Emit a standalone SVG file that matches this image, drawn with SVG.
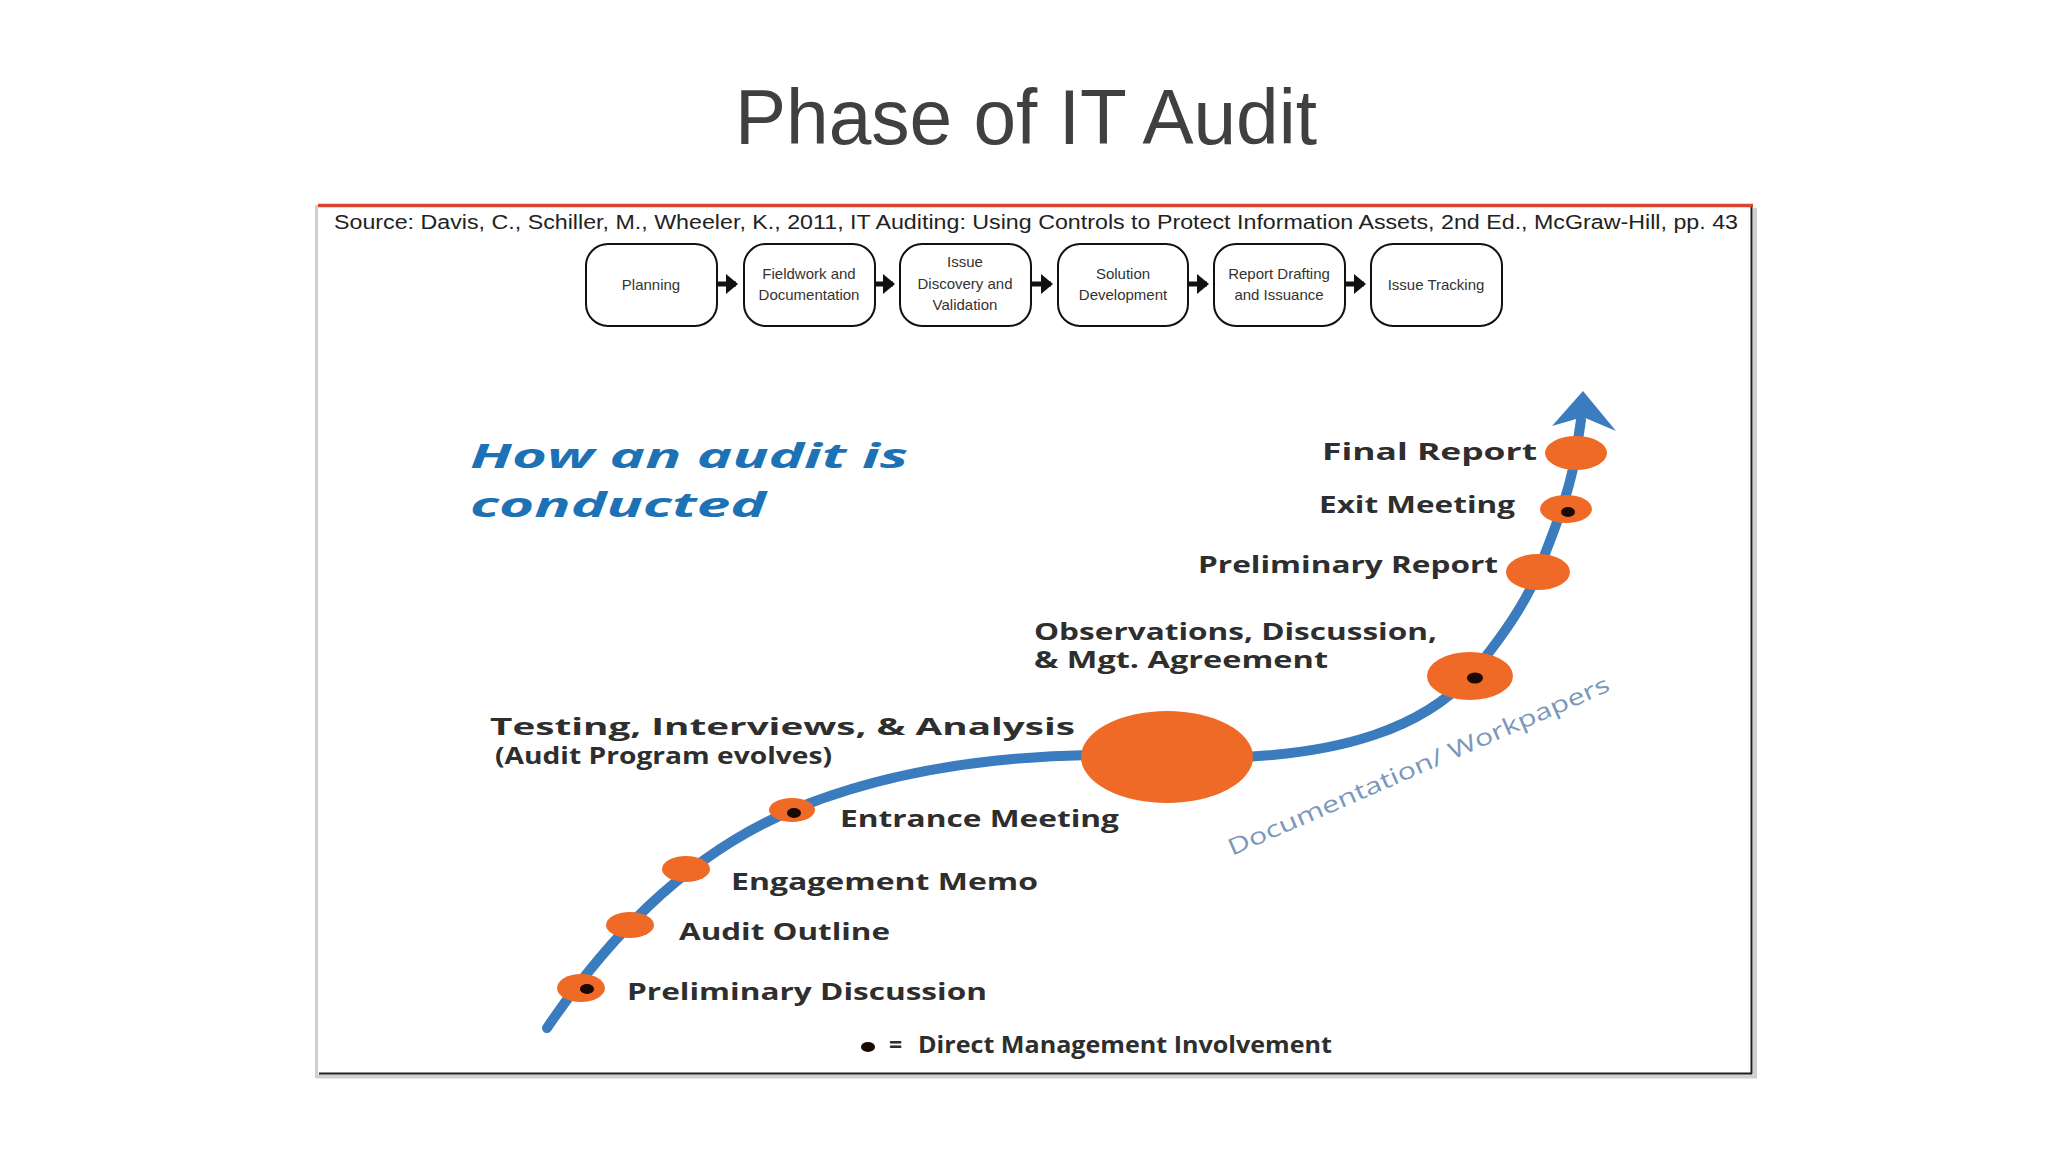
<svg xmlns="http://www.w3.org/2000/svg" width="2048" height="1152" viewBox="0 0 2048 1152">
<defs>
<style>
.title{font-family:"Liberation Sans",Arial,sans-serif;font-size:78px;fill:#404040}
.src{font-family:"Liberation Sans",Arial,sans-serif;font-size:20px;fill:#222}
.box{fill:#fff;stroke:#111;stroke-width:2}
.bt{font-family:"Liberation Sans",Arial,sans-serif;font-size:15px;fill:#333;text-anchor:middle}
.lbl{font-family:"Open Sans","DejaVu Sans",sans-serif;font-weight:700;font-size:23px;fill:#2e2e2e}
.how{font-family:"Open Sans","DejaVu Sans",sans-serif;font-weight:700;font-style:italic;font-size:34px;fill:#1d72b5}
.dot{fill:#ef6a26}
.blk{fill:#1a0a05}
.curve{fill:none;stroke:#3a7cbd;stroke-width:10;stroke-linecap:round}
.conn{stroke:#111;stroke-width:5}
</style>
<marker id="ah" markerWidth="4" markerHeight="4" refX="2" refY="2" orient="auto" markerUnits="strokeWidth">
<path d="M0,0 L2.4,2 L0,4 Z" fill="#111"/>
</marker>
</defs>
<rect width="2048" height="1152" fill="#fff"/>
<text class="title" x="1026" y="144" text-anchor="middle" textLength="582" lengthAdjust="spacingAndGlyphs">Phase of IT Audit</text>

<g id="frame">
<rect x="318" y="205" width="1433" height="868" fill="#fff"/>
<line x1="316.5" y1="205" x2="316.5" y2="1078" stroke="#cfcfcf" stroke-width="3"/>
<line x1="1755" y1="208" x2="1755" y2="1078" stroke="#d0d0d0" stroke-width="4"/>
<line x1="316" y1="1076.5" x2="1757" y2="1076.5" stroke="#d0d0d0" stroke-width="4"/>
<line x1="1751.5" y1="207" x2="1751.5" y2="1074" stroke="#1e1e1e" stroke-width="2"/>
<line x1="319" y1="1073.5" x2="1752" y2="1073.5" stroke="#1e1e1e" stroke-width="2"/>
<line x1="318" y1="205.5" x2="1753" y2="205.5" stroke="#d9442e" stroke-width="3.5"/>
<text class="src" x="334" y="229" textLength="1404" lengthAdjust="spacingAndGlyphs">Source: Davis, C., Schiller, M., Wheeler, K., 2011, IT Auditing: Using Controls to Protect Information Assets, 2nd Ed., McGraw-Hill, pp. 43</text>
</g>

<g id="connectors">
<line class="conn" x1="717" y1="284" x2="736" y2="284" marker-end="url(#ah)"/>
<line class="conn" x1="875" y1="284" x2="893" y2="284" marker-end="url(#ah)"/>
<line class="conn" x1="1031" y1="284" x2="1051" y2="284" marker-end="url(#ah)"/>
<line class="conn" x1="1188" y1="284" x2="1207" y2="284" marker-end="url(#ah)"/>
<line class="conn" x1="1345" y1="284" x2="1364" y2="284" marker-end="url(#ah)"/>
</g>

<g id="box-planning"><rect class="box" x="586" y="244" width="131" height="82" rx="22"/><text class="bt" x="651" y="290">Planning</text></g>
<g id="box-fieldwork"><rect class="box" x="744" y="244" width="131" height="82" rx="22"/><text class="bt" x="809" y="279">Fieldwork and</text><text class="bt" x="809" y="300">Documentation</text></g>
<g id="box-issue"><rect class="box" x="900" y="244" width="131" height="82" rx="22"/><text class="bt" x="965" y="267">Issue</text><text class="bt" x="965" y="289">Discovery and</text><text class="bt" x="965" y="310">Validation</text></g>
<g id="box-solution"><rect class="box" x="1058" y="244" width="130" height="82" rx="22"/><text class="bt" x="1123" y="279">Solution</text><text class="bt" x="1123" y="300">Development</text></g>
<g id="box-report"><rect class="box" x="1214" y="244" width="131" height="82" rx="22"/><text class="bt" x="1279" y="279">Report Drafting</text><text class="bt" x="1279" y="300">and Issuance</text></g>
<g id="box-tracking"><rect class="box" x="1371" y="244" width="131" height="82" rx="22"/><text class="bt" x="1436" y="290">Issue Tracking</text></g>

<g id="heading">
<text class="how" x="470" y="468" textLength="438" lengthAdjust="spacingAndGlyphs">How an audit is</text>
<text class="how" x="470" y="517" textLength="296" lengthAdjust="spacingAndGlyphs">conducted</text>
</g>

<g id="path">
<path class="curve" d="M547,1028 C600,950 680,855 800,807 C880,775 980,757 1090,755"/>
<path class="curve" d="M1245,757 C1340,752 1420,730 1470,676 C1500,640 1525,605 1538,572 C1552,535 1572,490 1578,440 L1581,420"/>
<path d="M1583,391 L1616,431 L1583,417 L1552,426 Z" fill="#3a7cbd"/>
</g>

<g id="docs">
<text x="0" y="0" transform="translate(1232,856) rotate(-23.6)" font-family="'Open Sans','DejaVu Sans',sans-serif" font-size="23" fill="#7b98bb" textLength="414" lengthAdjust="spacingAndGlyphs">Documentation/ Workpapers</text>
</g>

<g id="m-prelim-discussion"><ellipse class="dot" cx="581" cy="988" rx="24" ry="14"/><ellipse class="blk" cx="587" cy="989" rx="7" ry="5"/><text class="lbl" x="627" y="1000" textLength="360" lengthAdjust="spacingAndGlyphs">Preliminary Discussion</text></g>
<g id="m-audit-outline"><ellipse class="dot" cx="630" cy="925" rx="24" ry="13"/><text class="lbl" x="679" y="940" textLength="211" lengthAdjust="spacingAndGlyphs">Audit Outline</text></g>
<g id="m-engagement-memo"><ellipse class="dot" cx="686" cy="869" rx="24" ry="13"/><text class="lbl" x="731" y="890" textLength="307" lengthAdjust="spacingAndGlyphs">Engagement Memo</text></g>
<g id="m-entrance-meeting"><ellipse class="dot" cx="792" cy="810" rx="23" ry="12"/><ellipse class="blk" cx="794" cy="813" rx="7" ry="5"/><text class="lbl" x="840" y="827" textLength="279" lengthAdjust="spacingAndGlyphs">Entrance Meeting</text></g>
<g id="m-testing"><ellipse class="dot" cx="1167" cy="757" rx="86" ry="46"/><text class="lbl" x="490" y="735" font-size="25" textLength="585" lengthAdjust="spacingAndGlyphs">Testing, Interviews, &amp; Analysis</text><text class="lbl" x="495" y="764" font-size="16" textLength="337" lengthAdjust="spacingAndGlyphs">(Audit Program evolves)</text></g>
<g id="m-observations"><ellipse class="dot" cx="1470" cy="676" rx="43" ry="24"/><ellipse class="blk" cx="1475" cy="678" rx="8" ry="5.5"/><text class="lbl" x="1034" y="640" font-size="22" textLength="403" lengthAdjust="spacingAndGlyphs">Observations, Discussion,</text><text class="lbl" x="1034" y="668" font-size="22" textLength="294" lengthAdjust="spacingAndGlyphs">&amp; Mgt. Agreement</text></g>
<g id="m-prelim-report"><ellipse class="dot" cx="1538" cy="572" rx="32" ry="18"/><text class="lbl" x="1198" y="573" textLength="300" lengthAdjust="spacingAndGlyphs">Preliminary Report</text></g>
<g id="m-exit-meeting"><ellipse class="dot" cx="1566" cy="509" rx="26" ry="14"/><ellipse class="blk" cx="1568" cy="512" rx="7" ry="5"/><text class="lbl" x="1319" y="513" textLength="196" lengthAdjust="spacingAndGlyphs">Exit Meeting</text></g>
<g id="m-final-report"><ellipse class="dot" cx="1576" cy="453" rx="31" ry="17"/><text class="lbl" x="1322" y="460" font-size="25" textLength="215" lengthAdjust="spacingAndGlyphs">Final Report</text></g>

<g id="legend">
<ellipse class="blk" cx="868" cy="1047" rx="7" ry="5"/>
<text class="lbl" x="889" y="1053" font-size="16">=</text>
<text class="lbl" x="918" y="1053" font-size="16" textLength="414" lengthAdjust="spacingAndGlyphs">Direct Management Involvement</text>
</g>
</svg>
